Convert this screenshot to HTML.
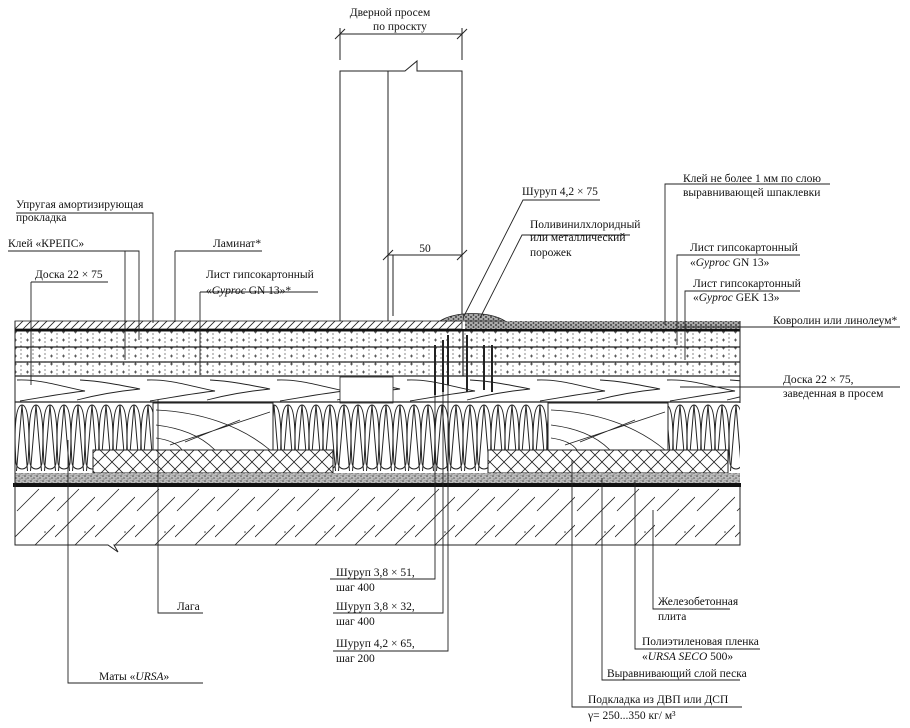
<!DOCTYPE html>
<html><head><meta charset="utf-8"><style>
html,body{margin:0;padding:0;background:#fff;}
svg{display:block}
text{font-family:"Liberation Serif",serif;font-size:11.5px;fill:#111}
</style></head><body>
<svg width="910" height="728" viewBox="0 0 910 728" xmlns="http://www.w3.org/2000/svg">
<defs>
<pattern id="lam" width="8" height="8" patternUnits="userSpaceOnUse">
<path d="M-2,10 L10,-2 M-2,2 L2,-2 M6,10 L10,6" stroke="#222" stroke-width="0.8"/>
</pattern>
<pattern id="gkl" width="12" height="8" patternUnits="userSpaceOnUse">
<path d="M2,4 h3 M3.5,2.5 v3" stroke="#333" stroke-width="0.7"/>
<circle cx="9" cy="2" r="0.6" fill="#333"/><circle cx="9" cy="6" r="0.6" fill="#333"/>
</pattern>
<pattern id="sand" width="6" height="5" patternUnits="userSpaceOnUse">
<rect width="6" height="5" fill="#bbb"/>
<circle cx="1" cy="1" r="0.8" fill="#444"/><circle cx="4" cy="3" r="0.8" fill="#555"/><circle cx="2" cy="4" r="0.6" fill="#666"/><circle cx="5" cy="0.5" r="0.5" fill="#777"/>
</pattern>
<pattern id="carp" width="5" height="4" patternUnits="userSpaceOnUse">
<rect width="5" height="4" fill="#aaa"/>
<circle cx="1" cy="1" r="0.9" fill="#222"/><circle cx="3.5" cy="3" r="0.9" fill="#333"/>
</pattern>
<pattern id="dvp" width="14" height="14" patternUnits="userSpaceOnUse">
<path d="M0,0 L14,14 M0,14 L14,0" stroke="#222" stroke-width="0.8"/>
</pattern>
<pattern id="conc" width="40" height="58" patternUnits="userSpaceOnUse" x="15" y="487">
<path d="M0,50 L40,10 M20,58 L40,38 M2,24 L24,2" stroke="#222" stroke-width="0.8"/>
<circle cx="30" cy="45" r="0.8" fill="#444"/>
</pattern>
<pattern id="mat" width="14" height="70" patternUnits="userSpaceOnUse" x="15" y="403">
<path d="M1,60 C-1,30 0,2 7,2 C14,2 15,30 13,60 C12,68 2,68 1,60 Z M7,2 L1.5,68 M7,2 L12.5,68" fill="none" stroke="#222" stroke-width="1"/>
</pattern>
<pattern id="wood" width="130" height="26" patternUnits="userSpaceOnUse" x="15" y="376">
<path d="M2,4 C25,3 45,10 70,15 C50,17 30,21 5,25 M65,4 C85,5 105,9 125,13 C105,15 85,18 62,24" fill="none" stroke="#222" stroke-width="0.9"/>
</pattern>
</defs>
<g stroke="#222" fill="none" stroke-width="1">
<path d="M340,321 V71 H405 L417,61 V71 H462 V321"/>
<path d="M388,71 V321"/>
<path d="M340,28 V60 M462,28 V60 M340,34 H462 M335,39 L345,29 M457,39 L467,29"/>
<path d="M393,255 V316 M388,255 H462 M383,260 L393,250 M457,260 L467,250"/>
</g>
<rect x="15" y="321" width="447" height="8" fill="url(#lam)" stroke="#222" stroke-width="0.8"/>
<rect x="465" y="321" width="275" height="8" fill="url(#carp)"/>
<path d="M440,321 C455,311 490,311 505,321 Z" fill="url(#carp)" stroke="#222" stroke-width="0.8"/>
<rect x="15" y="329" width="725" height="2.5" fill="#111"/>
<rect x="15" y="331" width="725" height="45" fill="url(#gkl)"/>
<g stroke="#222" stroke-width="1.2"><path d="M15,347 H740 M15,362 H740 M15,376 H740 M463,331 V376"/></g>
<rect x="15" y="376" width="725" height="27" fill="url(#wood)"/>
<rect x="340" y="377" width="53" height="26" fill="#fff" stroke="#222" stroke-width="0.8"/>
<path d="M15,402 H740" stroke="#222" stroke-width="1.3"/>
<rect x="15" y="403" width="725" height="70" fill="url(#mat)"/>
<g stroke="#222" stroke-width="1" fill="#fff">
<rect x="153" y="403" width="120" height="47"/>
<rect x="548" y="403" width="120" height="47"/>
</g>
<g stroke="#222" stroke-width="0.8" fill="none">
<path d="M156,410 C200,412 240,425 270,450 M156,425 C180,428 200,435 215,450 M156,438 C170,440 178,444 182,450 M170,445 L270,412 M185,442 L240,420"/>
<path d="M551,410 C595,412 635,425 665,450 M551,425 C575,428 595,435 610,450 M551,438 C565,440 573,444 577,450 M565,445 L665,412 M580,442 L635,420"/>
</g>
<rect x="93" y="450" width="240" height="23" fill="#fff"/>
<rect x="93" y="450" width="240" height="23" fill="url(#dvp)" stroke="#222"/>
<rect x="488" y="450" width="240" height="23" fill="#fff"/>
<rect x="488" y="450" width="240" height="23" fill="url(#dvp)" stroke="#222"/>
<rect x="15" y="473" width="725" height="10" fill="url(#sand)"/>
<rect x="13" y="483" width="728" height="4" fill="#111"/>
<rect x="15" y="487" width="725" height="58" fill="url(#conc)"/>
<path d="M15,487 V545 H108 L118,552 L114,545 H740 V487" fill="none" stroke="#222"/>
<path d="M15,321 V487 M740,321 V403" stroke="#222"/>
<g stroke="#222" stroke-width="2">
<path d="M435,345 V395 M443,340 V392 M448,335 V385 M467,335 V392 M484,345 V390 M492,345 V392"/>
</g>
<g stroke="#222" stroke-width="0.9" fill="none">
<path d="M16,213 H153 V323"/>
<path d="M8,251 H139 V340 M125,251 V360"/>
<path d="M31,282 H108 M31,282 V385"/>
<path d="M175,251 H262 M175,251 V322"/>
<path d="M200,292 H318 M200,292 V375"/>
<path d="M600,200 H523 L463,318"/>
<path d="M630,235 H522 L480,318"/>
<path d="M830,184 H665 V325"/>
<path d="M800,255 H677 V345"/>
<path d="M800,291 H685 V360"/>
<path d="M900,327 H680"/>
<path d="M900,387 H680"/>
<path d="M330,579 H435 V360 M333,613 H443 V365 M333,651 H448 V370"/>
<path d="M730,609 H653 V510 M760,649 H635 V480 M740,680 H602 V478 M742,707 H572 V460"/>
<path d="M203,613 H158 V400 M203,683 H68 V440"/>
</g>
<text x="390" y="16" text-anchor="middle">Дверной просем</text>
<text x="400" y="30" text-anchor="middle">по проскту</text>
<text x="425" y="252" text-anchor="middle">50</text>
<text x="16" y="208">Упругая амортизирующая</text>
<text x="16" y="221">прокладка</text>
<text x="8" y="247">Клей «КРЕПС»</text>
<text x="35" y="278">Доска 22 × 75</text>
<text x="213" y="247">Ламинат*</text>
<text x="206" y="278">Лист гипсокартонный</text>
<text x="206" y="294">«<tspan font-style="italic">Gyproc</tspan> GN 13»*</text>
<text x="522" y="195">Шуруп 4,2 × 75</text>
<text x="530" y="228">Поливинилхлоридный</text>
<text x="530" y="241">или металлический</text>
<text x="530" y="256">порожек</text>
<text x="683" y="182">Клей не более 1 мм по слою</text>
<text x="683" y="196">выравнивающей шпаклевки</text>
<text x="690" y="251">Лист гипсокартонный</text>
<text x="690" y="266">«<tspan font-style="italic">Gyproc</tspan> GN 13»</text>
<text x="693" y="287">Лист гипсокартонный</text>
<text x="693" y="301">«<tspan font-style="italic">Gyproc</tspan> GEK 13»</text>
<text x="773" y="324">Ковролин или линолеум*</text>
<text x="783" y="383">Доска 22 × 75,</text>
<text x="783" y="397">заведенная в просем</text>
<text x="336" y="576">Шуруп 3,8 × 51,</text>
<text x="336" y="591">шаг 400</text>
<text x="336" y="610">Шуруп 3,8 × 32,</text>
<text x="336" y="625">шаг 400</text>
<text x="336" y="647">Шуруп 4,2 × 65,</text>
<text x="336" y="662">шаг 200</text>
<text x="658" y="605">Железобетонная</text>
<text x="658" y="620">плита</text>
<text x="642" y="645">Полиэтиленовая пленка</text>
<text x="642" y="660">«<tspan font-style="italic">URSA SECO</tspan> 500»</text>
<text x="607" y="677">Выравнивающий слой песка</text>
<text x="588" y="703">Подкладка из ДВП или ДСП</text>
<text x="588" y="719">γ= 250...350 кг/ м³</text>
<text x="177" y="610">Лага</text>
<text x="99" y="680">Маты «<tspan font-style="italic">URSA</tspan>»</text>
</svg>
</body></html>
